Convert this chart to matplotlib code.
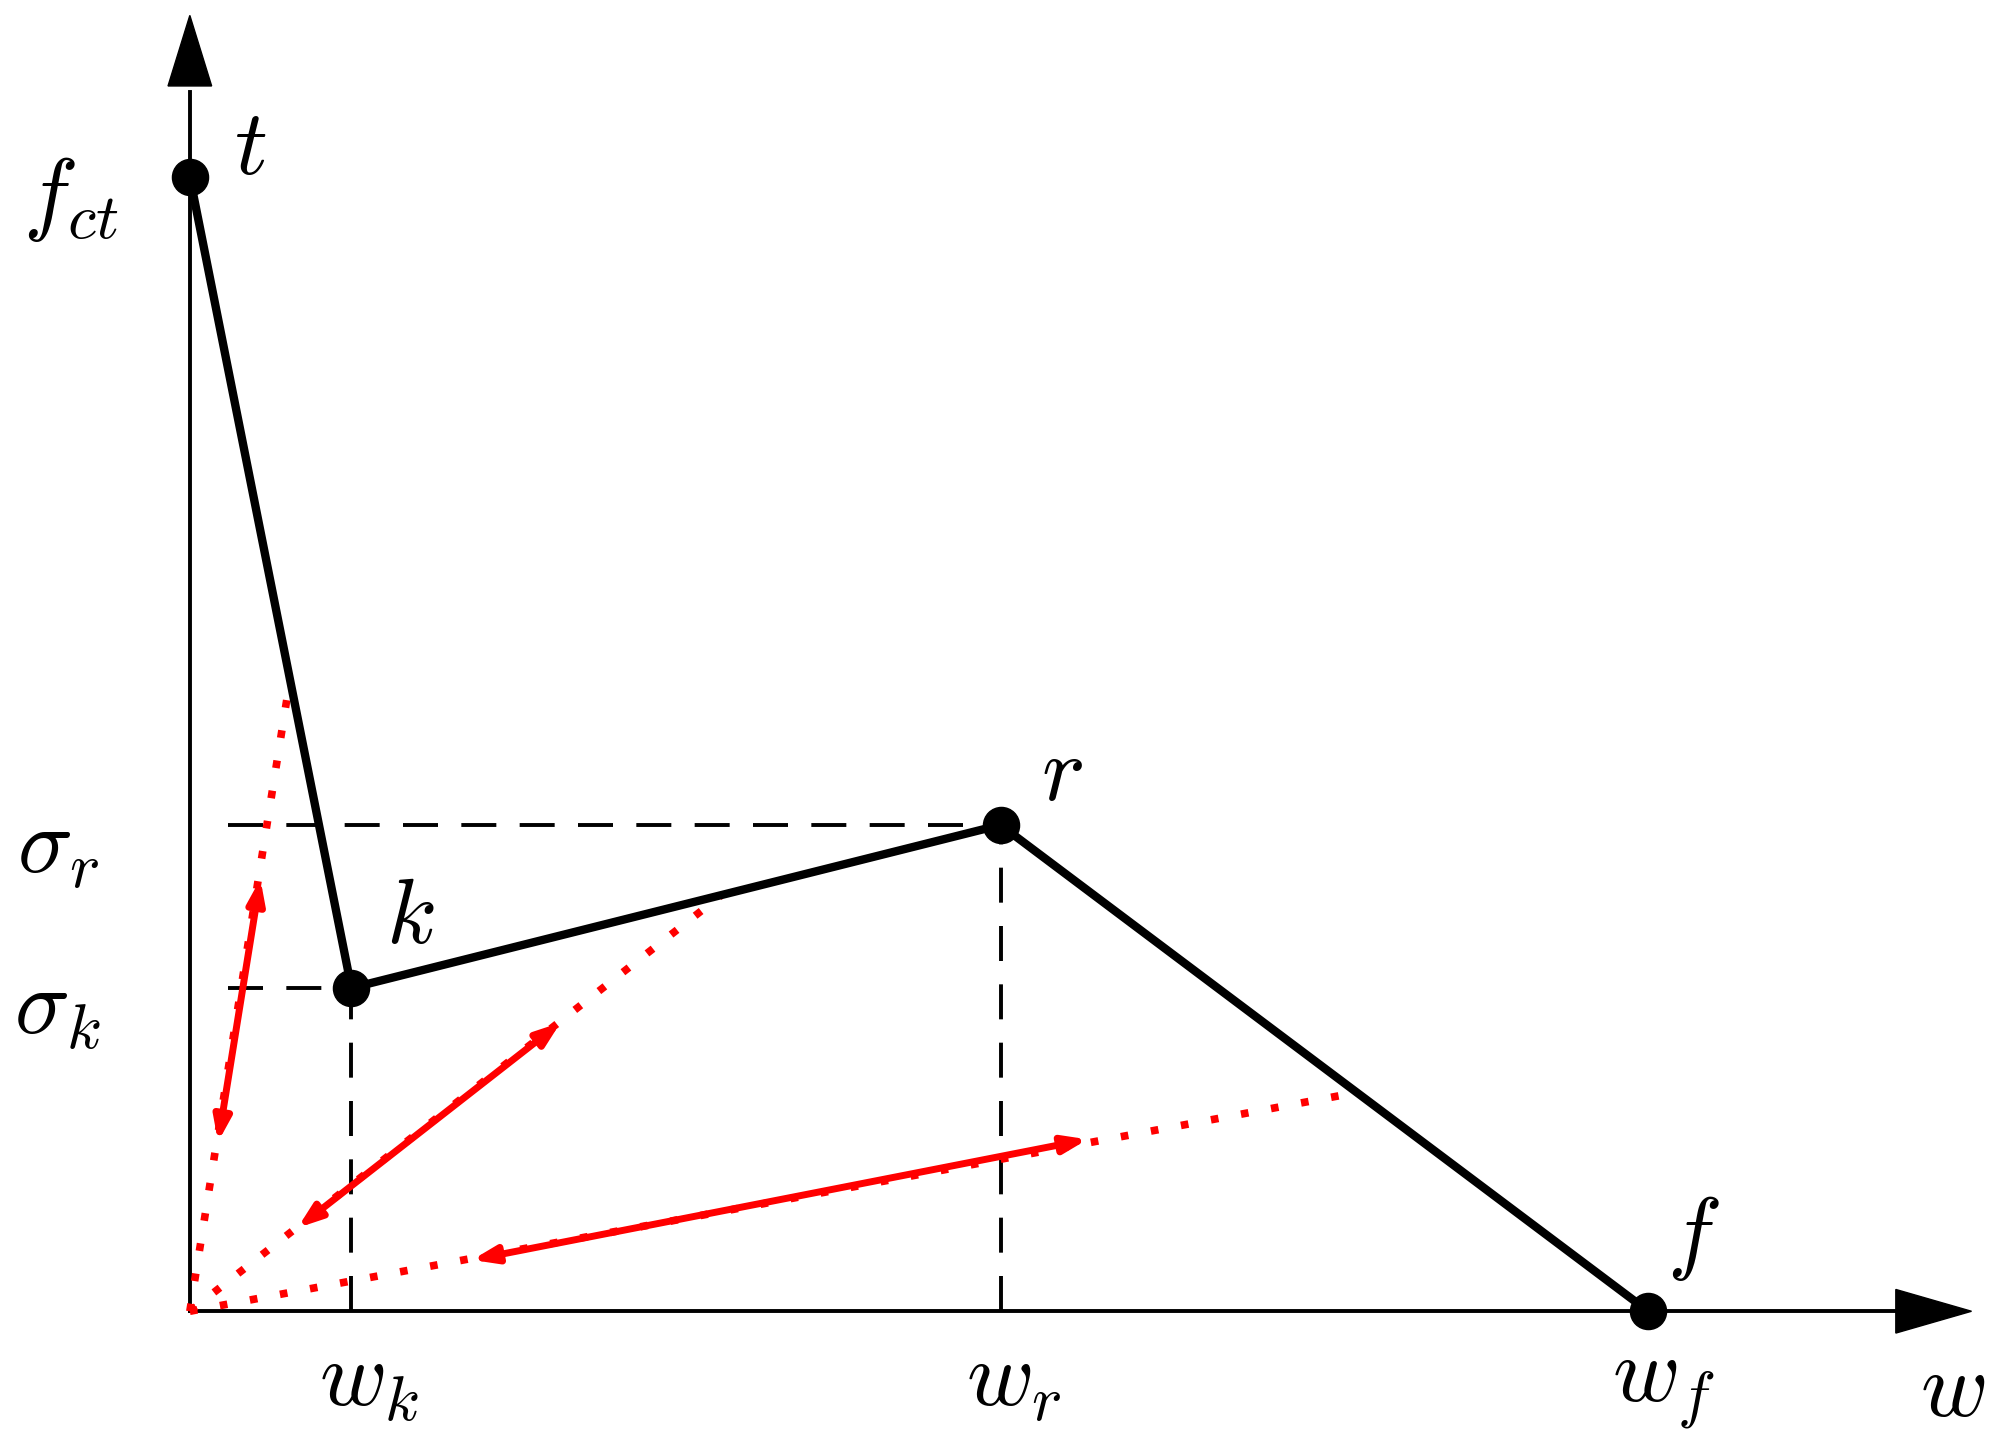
import matplotlib
matplotlib.use("Agg")
import matplotlib.pyplot as plt

plt.rcParams['mathtext.fontset'] = 'cm'

# softening curve points (w, sigma) in drawing units
point_names = ["t", "k", "r", "f"]
point_w = [0, 126, 632, 1137]
point_s = [884, 252, 379, 0]

# dotted red rays from the origin to the curve
ray_w = [78, 414, 907]
ray_s = [492, 324, 170]

# double arrows along the rays (start, end)
arrows = [((22, 132), (55, 337)), ((84, 65), (289, 225)), ((220, 40), (700, 134))]

fig = plt.figure(figsize=(20.01, 14.37), dpi=100)
ax = fig.add_axes([0, 0, 1, 1])
ax.set_xlim(-148, 1412)
ax.set_ylim(-98, 1022)
ax.axis("off")

# axes with arrowheads
ax.plot([0, 1330], [0, 0], color="black", lw=2.8)
ax.plot([0, 0], [0, 950], color="black", lw=2.8)
ax.fill([1330, 1389, 1330], [-17, 0, 17], color="black")
ax.fill([-17, 0, 17], [955, 1010, 955], color="black")

# dashed helper lines
for xs, ys in [([30, point_w[2]], [point_s[2]] * 2),
               ([30, point_w[1]], [point_s[1]] * 2),
               ([point_w[1]] * 2, [0, point_s[1]]),
               ([point_w[2]] * 2, [0, point_s[2]])]:
    ax.plot(xs, ys, color="black", lw=2.8, dashes=(9, 6))

# red dotted rays
for w, s in zip(ray_w, ray_s):
    ax.plot([0, w], [0, s], color="red", lw=5.5, linestyle=(0, (1, 3)))

for (x0, y0), (x1, y1) in arrows:
    ax.annotate("", xy=(x1, y1), xytext=(x0, y0),
                arrowprops=dict(arrowstyle="<|-|>,head_length=1.4,head_width=0.5",
                                color="red", lw=5, shrinkA=0, shrinkB=0))

# curve
ax.plot(point_w, point_s, color="black", lw=6, solid_capstyle="round", zorder=5)
ax.plot(point_w, point_s, "o", color="black", ms=26, zorder=6)

fs = 66
labels = [
    (r"$f_{ct}$", -93, 867), (r"$t$", 47, 907), (r"$\sigma_r$", -103, 362),
    (r"$\sigma_k$", -103, 237), (r"$k$", 172, 307), (r"$r$", 680, 419),
    (r"$f$", 1172, 57), (r"$w_k$", 140, -53), (r"$w_r$", 642, -53),
    (r"$w_f$", 1149, -58), (r"$w$", 1374, -61),
]
for txt, x, y in labels:
    ax.text(x, y, txt, fontsize=fs, ha="center", va="center")

fig.savefig("out.png", dpi=100)
